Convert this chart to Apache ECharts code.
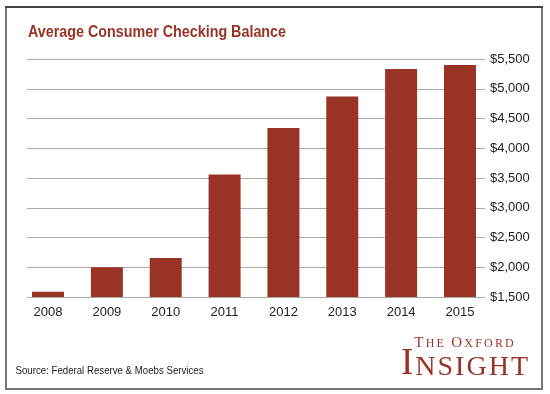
<!DOCTYPE html>
<html><head><meta charset="utf-8">
<script src="https://cdn.jsdelivr.net/npm/echarts@6.0.0/dist/echarts.min.js"></script>
<style>html,body{margin:0;padding:0;background:#fff}#c{width:550px;height:394px}</style>
</head><body><div id="c"></div>
<script>
// ---- data ----
const years = ['2008', '2009', '2010', '2011', '2012', '2013', '2014', '2015'];
const balances = [1590, 2000, 2155, 3560, 4340, 4870, 5330, 5400];
const yMin = 1500, yMax = 5500, yStep = 500;
const titleText = 'Average Consumer Checking Balance';
const sourceText = 'Source: Federal Reserve & Moebs Services';
const logoLine1 = [['T', 15], ['H', 12], ['E', 12], [' ', 12], ['O', 15], ['X', 12], ['F', 12], ['O', 12], ['R', 12], ['D', 12]];
const logoLine2 = [['I', 37], ['N', 28], ['S', 28], ['I', 28], ['G', 28], ['H', 28], ['T', 28]];

const RED = '#983326';
const SERIF = '"Liberation Serif", "DejaVu Serif", serif';
const SANS = '"Liberation Sans", Arial, sans-serif';
const chart = echarts.init(document.getElementById('c'), null, { renderer: 'canvas' });

const mctx = document.createElement('canvas').getContext('2d');
function measure(text, font) { mctx.font = font; return mctx.measureText(text).width; }

function letterElems(parts, x0, baseline, spacing) {
  const out = [];
  let x = x0;
  parts.forEach(([ch, size]) => {
    const font = size + 'px ' + SERIF;
    const w = measure(ch, font);
    if (ch !== ' ') {
      out.push({
        type: 'text', x: x, y: baseline - 0.3375 * size, silent: true,
        style: { text: ch, font: font, fill: RED, textAlign: 'left', verticalAlign: 'middle', textVerticalAlign: 'middle' }
      });
    }
    x += w + spacing;
  });
  return out;
}

// condensed text: fit a string into a given width by horizontal scaling
function condensedText(text, font, x, y, width, fill) {
  const w = measure(text, font);
  return {
    type: 'text', x: x, y: y, scaleX: width / w, scaleY: 1, silent: true,
    style: { text: text, font: font, fill: fill, textAlign: 'left', verticalAlign: 'middle', textVerticalAlign: 'middle' }
  };
}

const fmt = v => '$' + v.toLocaleString('en-US');

const option = {
  backgroundColor: '#fff',
  animation: false,
  grid: [
    { left: 27, right: 65, top: 59, bottom: 97 },
    { left: 18.6, right: 60.6, top: 59, bottom: 97 }
  ],
  xAxis: [
    { gridIndex: 0, type: 'category', data: years, show: false },
    {
      gridIndex: 1, type: 'category', data: years,
      axisLine: { show: false }, axisTick: { show: false },
      axisLabel: { color: '#222', fontFamily: SANS, fontSize: 13, margin: 9 }
    }
  ],
  yAxis: [
    {
      gridIndex: 0, type: 'value', position: 'right', min: yMin, max: yMax, interval: yStep,
      axisLine: { show: false }, axisTick: { show: false },
      splitLine: { lineStyle: { color: '#aaa', width: 1 } },
      axisLabel: { formatter: fmt, color: '#222', fontFamily: SANS, fontSize: 13, margin: 5 }
    },
    { gridIndex: 1, type: 'value', min: yMin, max: yMax, interval: yStep, show: false, splitLine: { show: false } }
  ],
  series: [{
    type: 'bar', xAxisIndex: 1, yAxisIndex: 1, data: balances, barWidth: 32,
    itemStyle: { color: RED }
  }],
  graphic: [
    { type: 'rect', silent: true, shape: { x: 6, y: 7, width: 536, height: 382 }, style: { fill: 'none', stroke: '#777', lineWidth: 2 } },
    { type: 'line', silent: true, shape: { x1: 5, y1: 7, x2: 543, y2: 7 }, style: { stroke: '#111', lineWidth: 1.2 } },
    condensedText(titleText, 'bold 17px ' + SANS, 28, 32.5, 258, RED),
    condensedText(sourceText, '11.5px ' + SANS, 15.5, 371.3, 188, '#222')
  ].concat(letterElems(logoLine1, 414.3, 348.3, 2.2), letterElems(logoLine2, 401, 376.7, 2))
};
chart.setOption(option);
</script></body></html>
